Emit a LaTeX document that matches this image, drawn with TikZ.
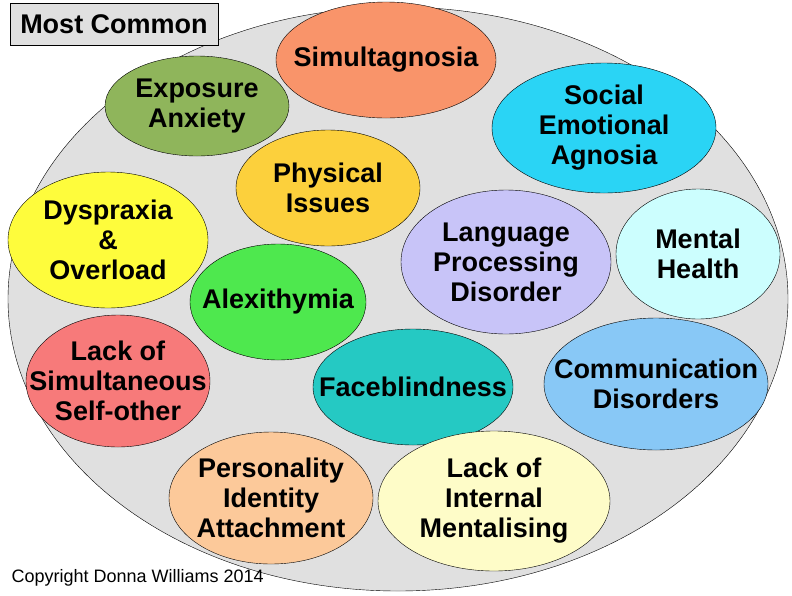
\documentclass[tikz,border=0pt]{standalone}
\usepackage{fontspec}
\setmainfont{Liberation Sans}
\usetikzlibrary{shapes.geometric}
\definecolor{cbg}{HTML}{E0E0E0}
\definecolor{csim}{HTML}{F9946A}
\definecolor{cexp}{HTML}{8FB55B}
\definecolor{csoc}{HTML}{2AD4F5}
\definecolor{cphy}{HTML}{FCD03C}
\definecolor{cdys}{HTML}{FEFC3C}
\definecolor{clan}{HTML}{C8C4F8}
\definecolor{cmen}{HTML}{CCFEFE}
\definecolor{calx}{HTML}{4EE84E}
\definecolor{cself}{HTML}{F77A7A}
\definecolor{cface}{HTML}{25C9C3}
\definecolor{ccom}{HTML}{88C8F6}
\definecolor{cper}{HTML}{FCC99A}
\definecolor{cint}{HTML}{FEFCC8}
\tikzset{
  blob/.style={ellipse,draw=black,thin,inner xsep=-60pt,inner ysep=-40pt,align=center,
    font=\fontsize{27}{30}\selectfont\bfseries},
}
\begin{document}
\begin{tikzpicture}[x=1pt,y=1pt]
    \useasboundingbox[fill=white] (0,0) rectangle (792,-595);
    \node[ellipse,draw=black,fill=cbg,minimum width=780,minimum height=584] (outer) at (398,-299) {};
    \node[draw=black,fill=cbg,minimum width=208,minimum height=42,font=\fontsize{27}{30}\selectfont\bfseries] (title) at (114,-24) {Most Common};

    \node[blob,fill=csim,minimum width=220,minimum height=116] (sim) at (386,-60) {Simultagnosia};
    \node[blob,fill=cexp,minimum width=184,minimum height=100] (exp) at (197,-106) {Exposure\\Anxiety};
    \node[blob,fill=csoc,minimum width=224,minimum height=130] (soc) at (604,-128) {Social\\Emotional\\Agnosia};
    \node[blob,fill=cphy,minimum width=184,minimum height=116] (phy) at (328,-188) {Physical\\Issues};
    \node[blob,fill=cdys,minimum width=200,minimum height=136] (dys) at (108,-240) {Dyspraxia\\\&\\Overload};
    \node[blob,fill=clan,minimum width=210,minimum height=144] (lan) at (506,-262) {Language\\Processing\\Disorder};
    \node[blob,fill=cmen,minimum width=164,minimum height=130] (men) at (698,-254) {Mental\\Health};
    \node[blob,fill=calx,minimum width=176,minimum height=116] (alx) at (278,-302) {Alexithymia};
    \node[blob,fill=cself,minimum width=184,minimum height=132] (self) at (118,-381) {Lack of\\Simultaneous\\Self-other};
    \node[blob,fill=cface,minimum width=200,minimum height=116] (face) at (413,-387) {Faceblindness};
    \node[blob,fill=ccom,minimum width=224,minimum height=132] (com) at (656,-384) {Communication\\Disorders};
    \node[blob,fill=cper,minimum width=204,minimum height=132] (per) at (271,-498) {Personality\\Identity\\Attachment};
    \node[blob,fill=cint,minimum width=232,minimum height=140] (int) at (494,-501) {Lack of\\Internal\\Mentalising};

    \node[anchor=west,font=\fontsize{18}{20}\selectfont] (copy) at (8,-578) {Copyright Donna Williams 2014};
\end{tikzpicture}
\end{document}
